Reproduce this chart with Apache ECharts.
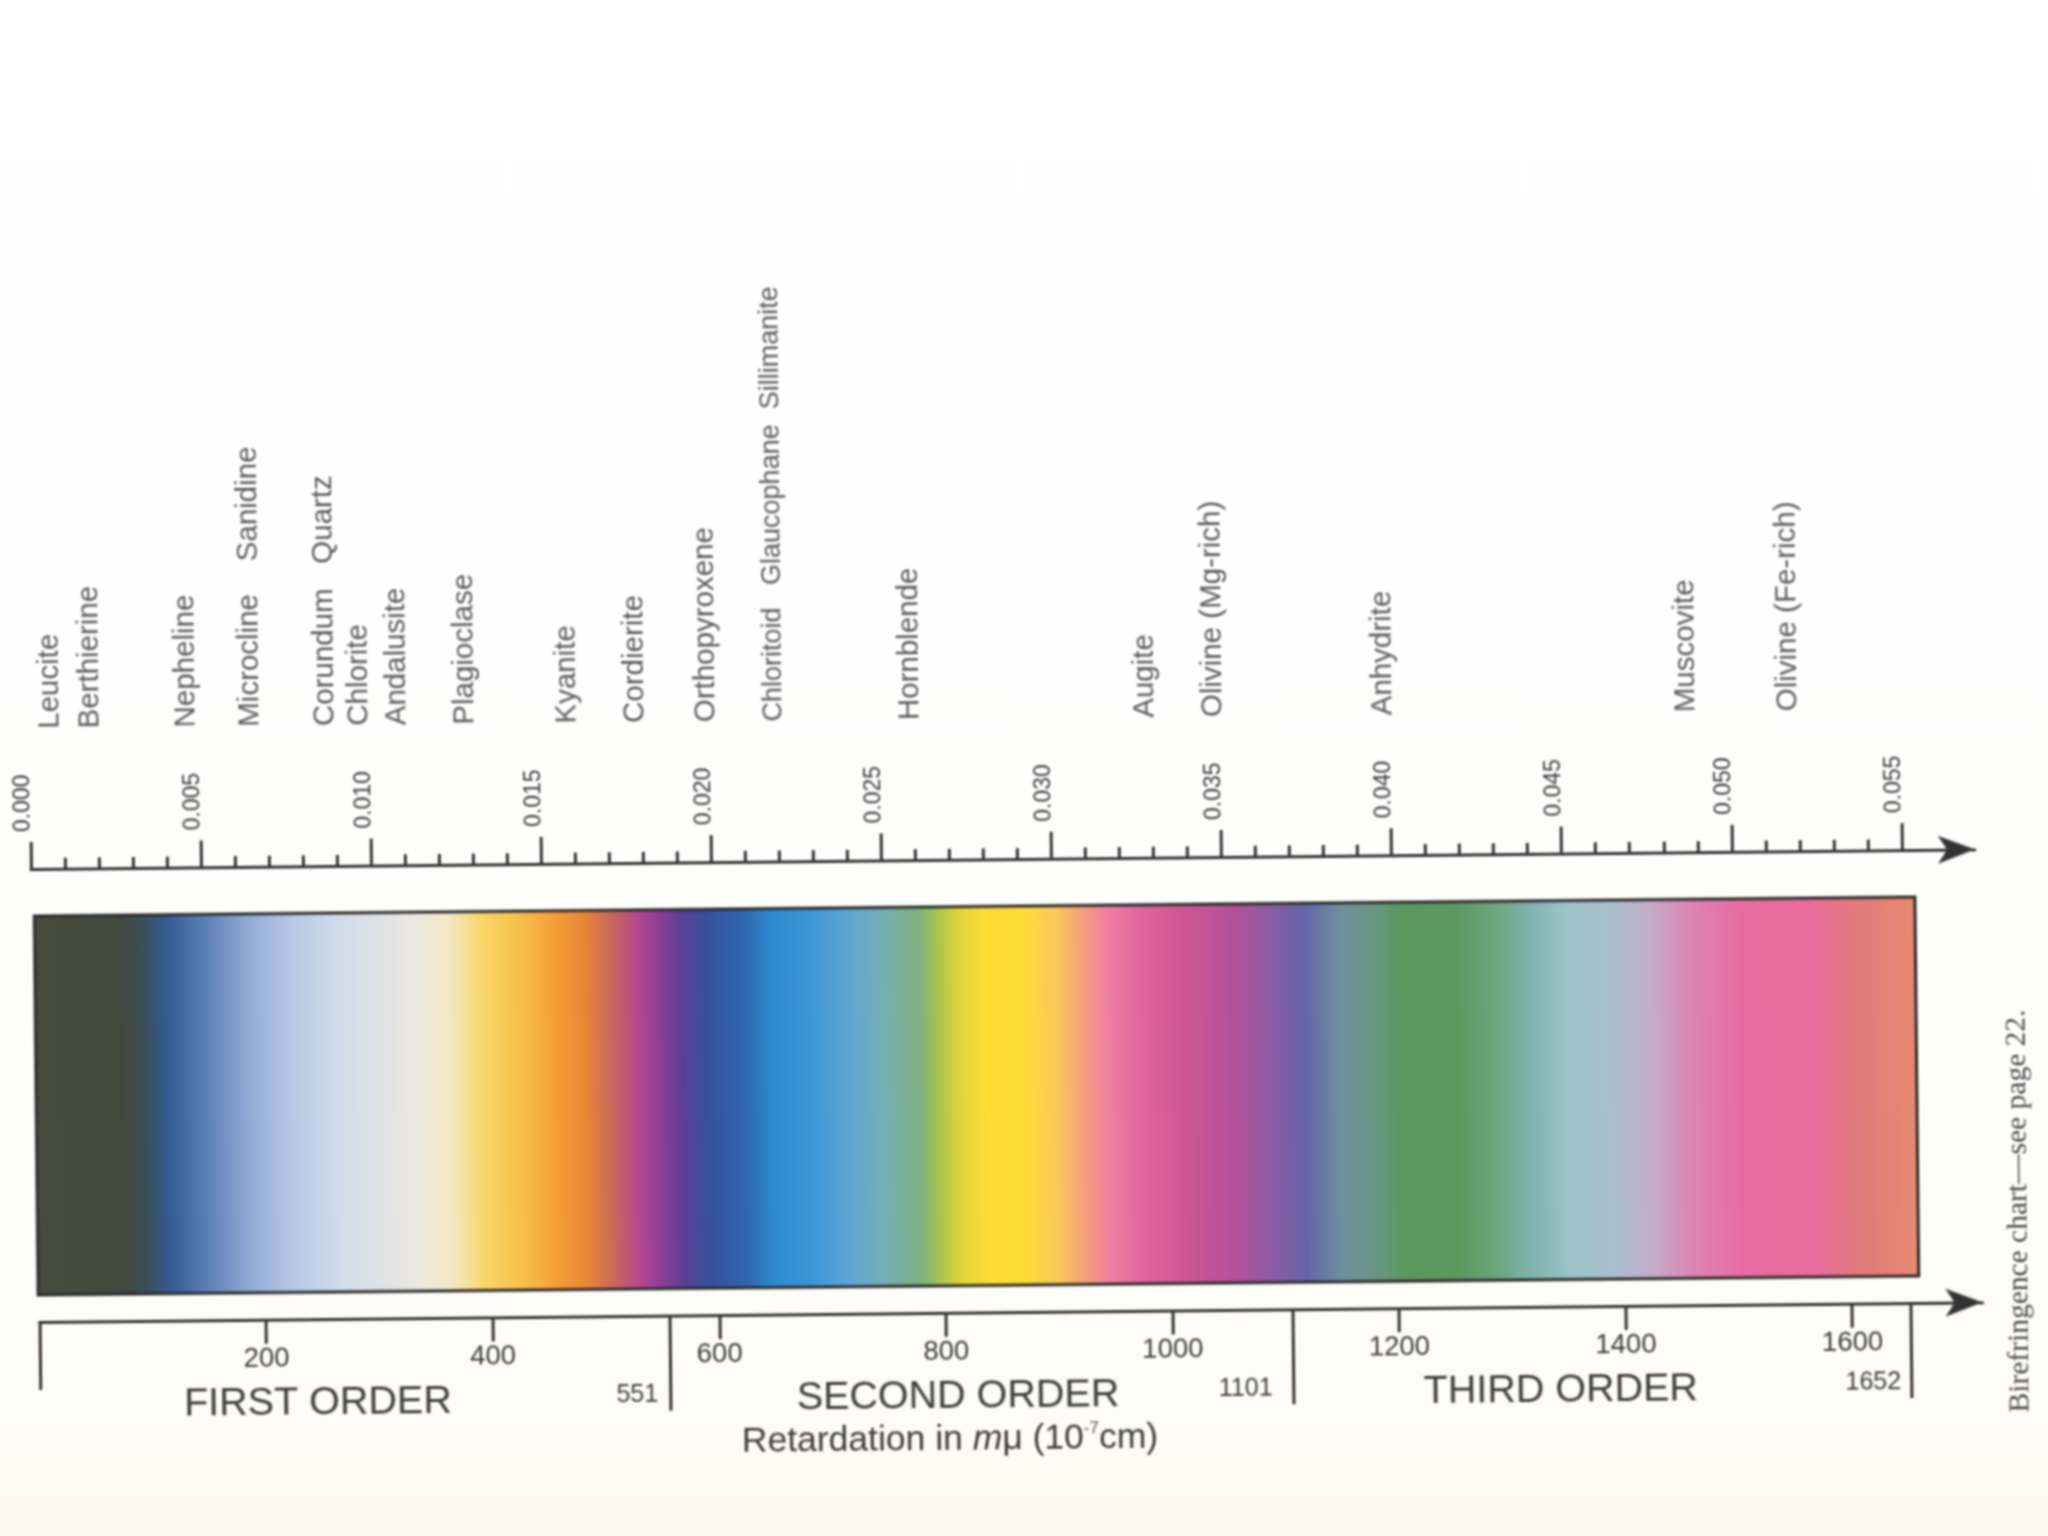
<!DOCTYPE html>
<html>
<head>
<meta charset="utf-8">
<script src="https://cdn.jsdelivr.net/npm/echarts@6/dist/echarts.min.js"></script>
<style>
	html, body { margin: 0; height: 100%; overflow: hidden;
		background: linear-gradient(to bottom, #ffffff 0%, #fefefd 70%, #fdfcf6 92%, #fdfaef 100%); }
	/* the page was scanned slightly crooked */
	#main { width: 2048px; height: 1536px; transform: rotate(-0.58deg); filter: blur(0.9px); }
</style>
</head>
<body>
<div id="main"></div>
<script type="text/javascript">
	// birefringence scale
	var birefMajor = [0, 0.005, 0.010, 0.015, 0.020, 0.025, 0.030, 0.035, 0.040, 0.045, 0.050, 0.055];
	var birefMinor = [0.001, 0.002, 0.003, 0.004, 0.006, 0.007, 0.008, 0.009, 0.011, 0.012, 0.013, 0.014,
		0.016, 0.017, 0.018, 0.019, 0.021, 0.022, 0.023, 0.024, 0.026, 0.027, 0.028, 0.029,
		0.031, 0.032, 0.033, 0.034, 0.036, 0.037, 0.038, 0.039, 0.041, 0.042, 0.043, 0.044,
		0.046, 0.047, 0.048, 0.049, 0.051, 0.052, 0.053, 0.054];

	// minerals, names sharing a column are read bottom to top
	var mineralValues = [0.0006, 0.0018, 0.0046, 0.0065, 0.0087, 0.0097, 0.0108, 0.0128, 0.0158, 0.0178,
		0.0199, 0.0219, 0.0259, 0.0328, 0.0348, 0.0398, 0.0487, 0.0517];
	var mineralNames = ['Leucite', 'Berthierine', 'Nepheline', 'Microcline\u00a0\u00a0\u00a0\u00a0Sanidine',
		'Corundum\u00a0\u00a0\u00a0Quartz', 'Chlorite', 'Andalusite', 'Plagioclase', 'Kyanite', 'Cordierite',
		'Orthopyroxene', 'Chloritoid\u00a0\u00a0\u00a0Glaucophane\u00a0\u00a0Sillimanite', 'Hornblende', 'Augite',
		'Olivine (Mg-rich)', 'Anhydrite', 'Muscovite', 'Olivine (Fe-rich)'];

	// retardation scale
	var retardTicks = [200, 400, 600, 800, 1000, 1200, 1400, 1600];
	var orderEdges = [556, 1106, 1652];
	var edgeLabels = ['551', '1101', '1652'];
	var edgeLabelAt = [527, 1064, 1618];
	var orderTitles = ['FIRST ORDER', 'SECOND ORDER', 'THIRD ORDER'];
	var orderTitleAt = [245, 810, 1342];

	// interference colours read across the band
	var bandRetard = [-1, 76, 95, 115, 150, 189, 227, 267, 307, 336, 365, 394, 428, 463, 484, 507, 532, 549,
		570, 590, 625, 650, 682, 717, 745, 780, 795, 815, 838, 871, 900, 923, 946, 975, 1015, 1056, 1090,
		1119, 1150, 1185, 1205, 1252, 1292, 1318, 1350, 1390, 1425, 1460, 1505, 1568, 1603, 1659];
	var bandColors = ['#484c3e', '#43483d', '#3b4e55', '#34598e', '#5c80b5', '#93acd5', '#b9c8e5', '#cfdcea',
		'#e0e3e4', '#ebe8df', '#f3e8c6', '#f8d769', '#f7bf4a', '#f29a35', '#e98735', '#c96a5a', '#b5478f',
		'#8f3f96', '#5c3f95', '#374f9a', '#2f66ad', '#2e8bd0', '#3b96d6', '#5fa6d4', '#72afb7', '#7fb27f',
		'#a7c24f', '#e0d63a', '#fddc33', '#fddb36', '#f8c95b', '#f5a07a', '#ee7fa3', '#e0659c', '#ce5593',
		'#b4519a', '#8a5ca3', '#6465a8', '#6f8f9f', '#66977c', '#5a985d', '#5a985d', '#6fa884', '#7fb3b0',
		'#9cc4c9', '#a9bfcd', '#c4abc9', '#dc85b0', '#e86ba0', '#e86c9b', '#e07a7d', '#e88a70'];

	var INK = '#333333';
	var BIREF_MAX = 0.05715;
	var RETARD_MAX = 1715;
	var myChart = echarts.init(document.getElementById('main'), null, { renderer: 'canvas' });

	// axes below only carry ticks or labels, the line itself is drawn once per grid
	function hiddenY(grid) {
		return { type: 'value', gridIndex: grid, min: 0, max: 1, show: false };
	}
	function scaleAxis(grid, max, extra) {
		return Object.assign({
			type: 'value', gridIndex: grid, min: 0, max: max, position: 'bottom',
			splitLine: { show: false }, minorSplitLine: { show: false },
			axisLine: { show: false, onZero: false },
			axisTick: { show: false }, axisLabel: { show: false }
		}, extra);
	}
	function arrowLine() {
		return { show: true, onZero: false, symbol: ['none', 'arrow'], symbolSize: [21, 37],
			lineStyle: { color: INK, width: 3 } };
	}
	function tickStyle(values, length, inside) {
		return { show: true, customValues: values, length: length, inside: inside,
			lineStyle: { color: INK, width: 3 } };
	}

	var option = {
		animation: false,
		backgroundColor: 'transparent',
		grid: [
			{ left: 30, width: 1944, top: 719, height: 140 },
			{ left: 34, width: 1943, top: 906, height: 379 },
			{ left: 34, width: 1943, top: 1297, height: 15 }
		],
		xAxis: [
			// birefringence
			scaleAxis(0, BIREF_MAX, {
				axisLine: arrowLine(),
				axisTick: tickStyle(birefMajor, 27, true),
				axisLabel: { show: true, customValues: birefMajor, inside: true, rotate: 90, margin: 37,
					verticalAlign: 'bottom', lineHeight: 14, fontFamily: 'Liberation Sans', fontSize: 23, color: '#3c3c3c',
					formatter: function (v) { return v.toFixed(3); } }
			}),
			scaleAxis(0, BIREF_MAX, { axisTick: tickStyle(birefMinor, 11, true) }),
			// colour band
			scaleAxis(1, RETARD_MAX, { show: false }),
			// retardation
			scaleAxis(2, RETARD_MAX, {
				axisLine: arrowLine(),
				axisTick: tickStyle(retardTicks, 24, false),
				axisLabel: { show: true, customValues: retardTicks, margin: 25,
					fontFamily: 'Liberation Sans', fontSize: 27.5, color: '#3c3c3c',
					formatter: function (v) { return String(v); } }
			}),
			scaleAxis(2, RETARD_MAX, { axisTick: tickStyle(orderEdges, 95, false) }),
			scaleAxis(2, RETARD_MAX, { axisTick: tickStyle([0], 68, false) }),
			scaleAxis(2, RETARD_MAX, {
				axisLabel: { show: true, customValues: edgeLabelAt, margin: 67,
					fontFamily: 'Liberation Sans', fontSize: 25, color: '#3c3c3c',
					formatter: function (v) { return edgeLabels[edgeLabelAt.indexOf(v)]; } }
			}),
			scaleAxis(2, RETARD_MAX, {
				axisLabel: { show: true, customValues: orderTitleAt, margin: 64,
					fontFamily: 'Liberation Sans', fontSize: 39.5, color: '#3c3c3c',
					formatter: function (v) { return orderTitles[orderTitleAt.indexOf(v)]; } }
			})
		],
		yAxis: [hiddenY(0), hiddenY(1), hiddenY(2)],
		title: {
			text: 'Retardation in {i|m}μ (10{s|-7}cm)',
			left: 730, top: 1416,
			textStyle: {
				fontFamily: 'Liberation Sans', fontSize: 35.5, fontWeight: 'normal', color: '#3c3c3c',
				rich: {
					i: { fontFamily: 'Liberation Sans', fontStyle: 'italic', fontSize: 35.5, color: '#3c3c3c' },
					s: { fontFamily: 'Liberation Sans', fontSize: 17, color: '#555', verticalAlign: 'top' }
				}
			}
		},
		graphic: [{
			type: 'text', x: 2014, y: 1221, rotation: Math.PI / 2,
			style: { text: 'Birefringence chart—see page 22.', fill: '#4a4a4a',
				font: '29.5px "Liberation Serif"', textAlign: 'center', textVerticalAlign: 'middle' }
		}],
		series: [
			{
				type: 'scatter', xAxisIndex: 0, yAxisIndex: 0, symbolSize: 1, silent: true, clip: false,
				itemStyle: { color: 'transparent' },
				data: mineralValues.map(function (v, i) {
					return {
						value: [v, 1], name: mineralNames[i],
						// the three name column is set tighter in the book
						label: { fontSize: mineralNames[i].indexOf('Glaucophane') >= 0 ? 27 : 29.5 }
					};
				}),
				label: { show: true, position: 'inside', rotate: 90, align: 'left', verticalAlign: 'middle',
					fontFamily: 'Liberation Sans', color: '#303030',
					formatter: function (p) { return p.name; } }
			},
			{
				type: 'custom', xAxisIndex: 2, yAxisIndex: 1, silent: true, clip: false,
				encode: { x: [0, 2], y: [1, 3] },
				data: [[bandRetard[0], 0, bandRetard[bandRetard.length - 1], 1]],
				renderItem: function (params, api) {
					var from = api.coord([api.value(0), api.value(1)]);
					var to = api.coord([api.value(2), api.value(3)]);
					var span = api.value(2) - api.value(0);
					return {
						type: 'rect',
						shape: { x: from[0], y: to[1], width: to[0] - from[0], height: from[1] - to[1] },
						style: {
							stroke: '#2b2b2b', lineWidth: 3,
							fill: new echarts.graphic.LinearGradient(0, 0, 1, 0, bandRetard.map(function (r, i) {
								return { offset: (r - api.value(0)) / span, color: bandColors[i] };
							}))
						}
					};
				}
			}
		]
	};
	myChart.setOption(option);
</script>
</body>
</html>
